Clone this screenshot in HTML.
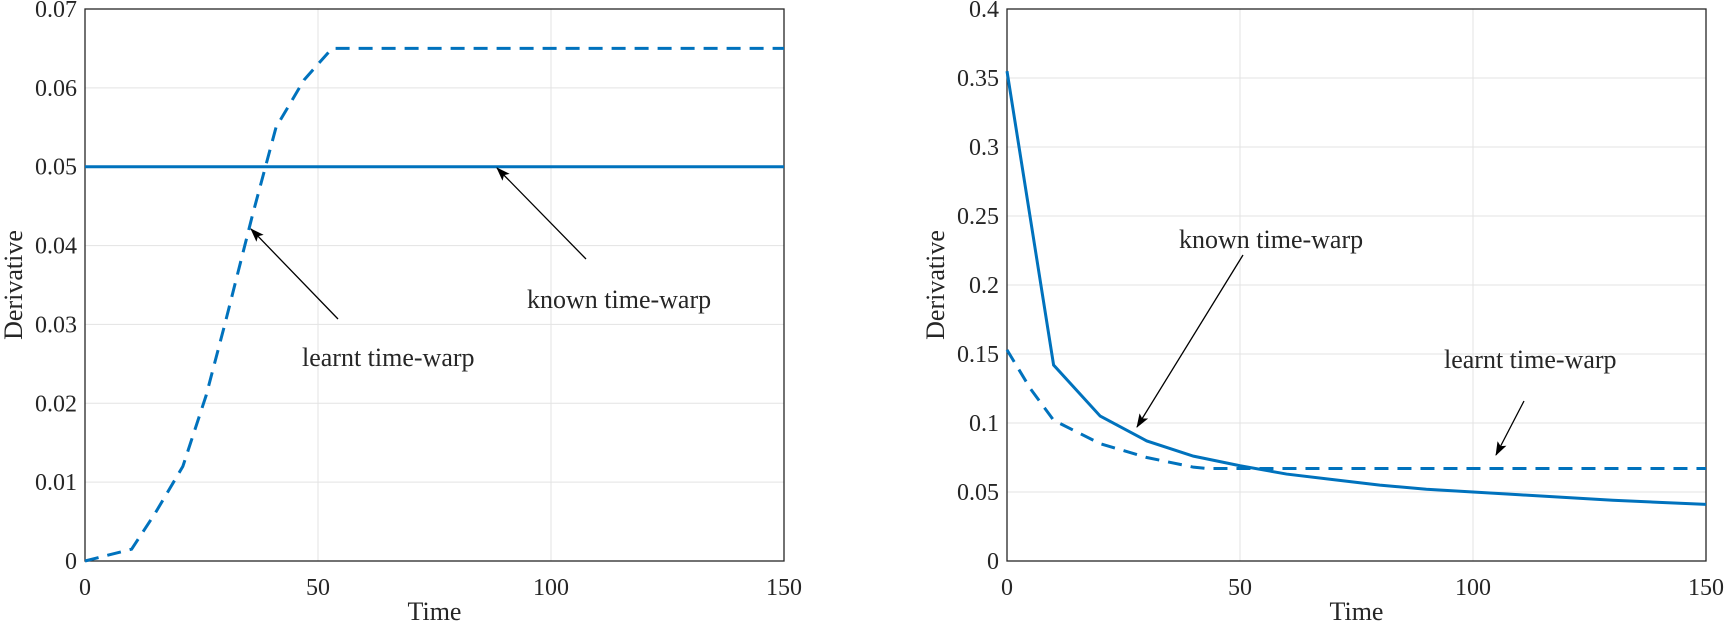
<!DOCTYPE html>
<html><head><meta charset="utf-8"><style>
body{margin:0;background:#fff}
svg text{font-family:"Liberation Serif",serif;fill:#262626}
</style></head><body>
<svg id="s" width="1725" height="627" xmlns="http://www.w3.org/2000/svg">
<defs><marker id="ah" markerWidth="14" markerHeight="10" refX="13" refY="5" orient="auto" markerUnits="userSpaceOnUse"><path d="M0,0 L14,5 L0,10 L3,5 z" fill="#000"/></marker></defs>
</svg>
<script>
const s=document.getElementById('s');const NS='http://www.w3.org/2000/svg';
function el(t,a,txt){const e=document.createElementNS(NS,t);for(const k in a)e.setAttribute(k,a[k]);if(txt!==undefined)e.textContent=txt;s.appendChild(e);return e;}
const T=9,B=561;
function axes(x0,x1,ymax,yticks,fmt,solid,dash){
 const X=v=>x0+(x1-x0)*v/150, Y=v=>B-(B-T)*v/ymax;
 for(const v of [0,50,100,150]){el('line',{x1:X(v),x2:X(v),y1:T,y2:B,stroke:'#e3e3e3','stroke-width':1});
  el('text',{x:X(v),y:595,'font-size':24,'text-anchor':'middle'},v);}
 for(const v of yticks){el('line',{x1:x0,x2:x1,y1:Y(v),y2:Y(v),stroke:'#e3e3e3','stroke-width':1});
  el('text',{x:x0-8,y:Y(v)+8,'font-size':24,'text-anchor':'end'},fmt(v));}
 el('rect',{x:x0,y:T,width:x1-x0,height:B-T,fill:'none',stroke:'#262626','stroke-width':1.3});
 el('text',{x:(x0+x1)/2,y:620,'font-size':26,'text-anchor':'middle'},'Time');
 el('text',{x:0,y:0,'font-size':26,'text-anchor':'middle',transform:`translate(${x0-63},${(T+B)/2}) rotate(-90)`},'Derivative');
 const pl=(pts,d)=>el('polyline',{points:pts.map(p=>X(p[0])+','+Y(p[1])).join(' '),fill:'none',stroke:'#0072bd','stroke-width':3,'stroke-dasharray':d?'14,9':'none'});
 pl(solid,false);pl(dash,true);
}
axes(85,784,0.07,[0,0.01,0.02,0.03,0.04,0.05,0.06,0.07],v=>v===0?'0':v.toFixed(2),
 [[0,0.05],[150,0.05]],
 [[0,0],[10,0.0015],[15,0.006],[21,0.012],[26,0.021],[30,0.03],[36,0.044],[41,0.055],[47,0.061],[53,0.065],[150,0.065]]);
axes(1007,1706,0.4,[0,0.05,0.1,0.15,0.2,0.25,0.3,0.35,0.4],v=>v===0?'0':String(+v.toFixed(2)),
 [[0,0.355],[10,0.142],[20,0.105],[30,0.087],[40,0.076],[50,0.069],[60,0.063],[70,0.059],[80,0.055],[90,0.052],[100,0.05],[110,0.048],[120,0.046],[130,0.044],[140,0.0425],[150,0.041]],
 [[0,0.153],[5,0.125],[10,0.102],[20,0.085],[30,0.075],[40,0.068],[43,0.067],[150,0.067]]);
const arr=(a,b,c,d)=>el('line',{x1:a,y1:b,x2:c,y2:d,stroke:'#000','stroke-width':1.3,'marker-end':'url(#ah)'});
arr(586,259,497,168);arr(338,319,251,229);arr(1243,255,1137,427);arr(1524,401,1496,455);
el('text',{x:527,y:308,'font-size':26},'known time-warp');
el('text',{x:302,y:366,'font-size':26},'learnt time-warp');
el('text',{x:1179,y:248,'font-size':26},'known time-warp');
el('text',{x:1444,y:368,'font-size':26},'learnt time-warp');
</script>
</body></html>
